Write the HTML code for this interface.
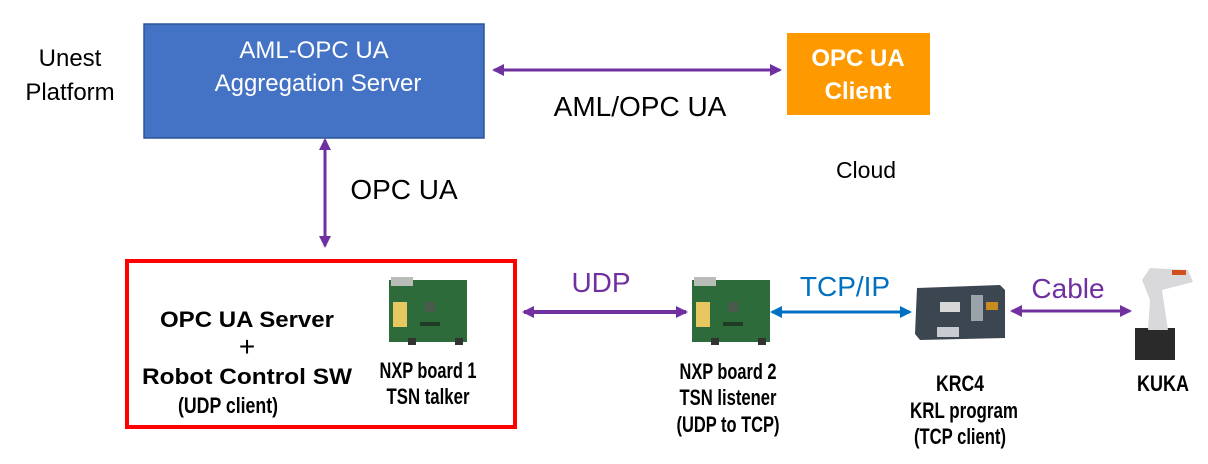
<!DOCTYPE html>
<html><head><style>body{margin:0;background:#fff}svg{display:block}</style></head><body>
<svg width="1208" height="464" viewBox="0 0 1208 464" xmlns="http://www.w3.org/2000/svg" font-family="Liberation Sans, sans-serif">
<defs>
<marker id="ap" markerWidth="12" markerHeight="12" refX="10" refY="6" orient="auto-start-reverse" markerUnits="userSpaceOnUse"><path d="M0,0 L12,6 L0,12 Z" fill="#7030A0"/></marker>
<marker id="ab" markerWidth="12" markerHeight="12" refX="10" refY="6" orient="auto-start-reverse" markerUnits="userSpaceOnUse"><path d="M0,0 L12,6 L0,12 Z" fill="#0070C0"/></marker>
</defs>
<rect x="144" y="24" width="340" height="114" fill="#4472C4" stroke="#2F5597" stroke-width="1.5"/>
<text x="314" y="58" fill="#fff" font-size="24" text-anchor="middle">AML-OPC UA</text>
<text x="318" y="91" fill="#fff" font-size="24" text-anchor="middle">Aggregation Server</text>
<text x="70" y="66" font-size="24" text-anchor="middle">Unest</text>
<text x="70" y="100" font-size="24" text-anchor="middle">Platform</text>
<rect x="787" y="33" width="143" height="82" fill="#FF9900"/>
<text x="858" y="66" fill="#fff" font-size="24" font-weight="bold" text-anchor="middle">OPC UA</text>
<text x="858" y="99" fill="#fff" font-size="24" font-weight="bold" text-anchor="middle">Client</text>
<line x1="494" y1="70" x2="780" y2="70" stroke="#7030A0" stroke-width="3" marker-start="url(#ap)" marker-end="url(#ap)"/>
<text x="640" y="116" font-size="28" text-anchor="middle">AML/OPC UA</text>
<text x="866" y="178" font-size="23" text-anchor="middle">Cloud</text>
<line x1="325" y1="140" x2="325" y2="246" stroke="#7030A0" stroke-width="3" marker-start="url(#ap)" marker-end="url(#ap)"/>
<text x="404" y="199" font-size="28" text-anchor="middle">OPC UA</text>
<rect x="127" y="261" width="388" height="166" fill="none" stroke="#FF0000" stroke-width="4"/>
<g font-weight="bold" font-size="22" text-anchor="middle">
<text x="247" y="327" textLength="174" lengthAdjust="spacingAndGlyphs">OPC UA Server</text>
<text x="247" y="356" font-weight="normal" font-size="28">+</text>
<text x="247" y="384" textLength="210" lengthAdjust="spacingAndGlyphs">Robot Control SW</text>
<text x="228" y="413" textLength="100" lengthAdjust="spacingAndGlyphs">(UDP client)</text>
<text x="428" y="378" textLength="97" lengthAdjust="spacingAndGlyphs">NXP board 1</text>
<text x="428" y="404" textLength="83" lengthAdjust="spacingAndGlyphs">TSN talker</text>
<text x="728" y="379" textLength="97" lengthAdjust="spacingAndGlyphs">NXP board 2</text>
<text x="728" y="405" textLength="97" lengthAdjust="spacingAndGlyphs">TSN listener</text>
<text x="728" y="432" textLength="103" lengthAdjust="spacingAndGlyphs">(UDP to TCP)</text>
<text x="960" y="391" textLength="48" lengthAdjust="spacingAndGlyphs">KRC4</text>
<text x="964" y="418" textLength="108" lengthAdjust="spacingAndGlyphs">KRL program</text>
<text x="960" y="444" textLength="92" lengthAdjust="spacingAndGlyphs">(TCP client)</text>
<text x="1163" y="391" textLength="52" lengthAdjust="spacingAndGlyphs">KUKA</text>
</g>
<g id="b1">
<rect x="389" y="280" width="78" height="62" fill="#2E6B3A"/>
<rect x="391" y="277" width="22" height="9" fill="#B8BDB8"/>
<rect x="393" y="302" width="14" height="25" fill="#E7C760"/>
<rect x="425" y="302" width="10" height="10" fill="#4a5a4c"/>
<rect x="420" y="322" width="20" height="4" fill="#1f3a25"/>
<rect x="408" y="338" width="8" height="7" fill="#333"/>
<rect x="455" y="338" width="8" height="7" fill="#333"/>
</g>
<use href="#b1" x="303" y="0"/>
<line x1="524" y1="312" x2="686" y2="312" stroke="#7030A0" stroke-width="4" marker-start="url(#ap)" marker-end="url(#ap)"/>
<text x="601" y="292" font-size="28" fill="#7030A0" text-anchor="middle">UDP</text>
<line x1="772" y1="312" x2="910" y2="312" stroke="#0070C0" stroke-width="3" marker-start="url(#ab)" marker-end="url(#ab)"/>
<text x="845" y="296" font-size="28" fill="#0070C0" text-anchor="middle">TCP/IP</text>
<polygon points="917,288 1000,285 1005,290 1005,338 920,340 915,334" fill="#3C4650"/>
<rect x="940" y="302" width="20" height="10" fill="#d8d8d8"/>
<rect x="971" y="295" width="12" height="26" fill="#9aa2aa"/>
<rect x="986" y="302" width="12" height="8" fill="#c98a20"/>
<rect x="937" y="327" width="22" height="10" fill="#c8ccd0"/>
<line x1="1012" y1="311" x2="1130" y2="311" stroke="#7030A0" stroke-width="3" marker-start="url(#ap)" marker-end="url(#ap)"/>
<text x="1068" y="298" font-size="28" fill="#7030A0" text-anchor="middle">Cable</text>
<g>
<rect x="1135" y="328" width="40" height="32" fill="#2a2a2a"/>
<path d="M1148,330 L1150,300 L1142,280 L1150,268 L1188,270 L1193,282 L1162,290 L1168,330 Z" fill="#d9d9dc"/>
<rect x="1172" y="270" width="14" height="5" fill="#d05020"/>
</g>
</svg>
</body></html>
